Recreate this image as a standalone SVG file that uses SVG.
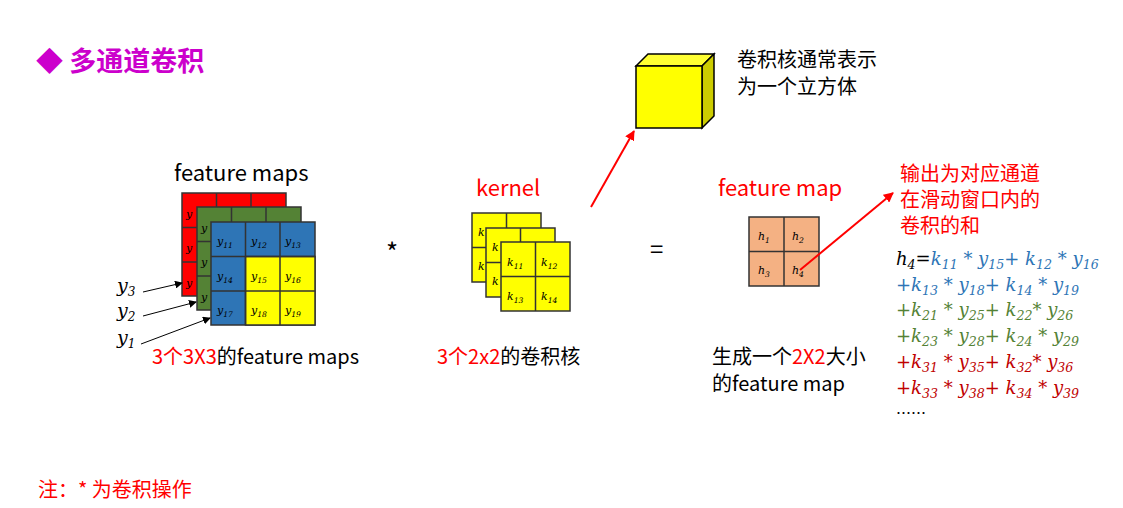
<svg xmlns="http://www.w3.org/2000/svg" width="1123" height="508" viewBox="0 0 1123 508">
<style>
text{font-family:"Noto Sans CJK SC","Liberation Sans",sans-serif}
.c{stroke:#333;stroke-width:1.5}
text.m{font-family:"DejaVu Serif","Liberation Serif",serif;font-style:italic}
.b{font-size:70%}
.s{font-size:11px}
.k{font-size:11px}
.e{font-size:18px}
.t{font-size:22px}
.z{font-size:20px}
</style>
<defs>
<marker id="ab" markerWidth="8" markerHeight="8" refX="7" refY="4" orient="auto" markerUnits="userSpaceOnUse"><path d="M0,0L8,4L0,8z" fill="#000"/></marker>
<marker id="ar" markerWidth="10" markerHeight="10" refX="9" refY="5" orient="auto" markerUnits="userSpaceOnUse"><path d="M0,0L10,5L0,10z" fill="red"/></marker>
</defs>
<rect width="1123" height="508" fill="#fff"/>
<g id="title"><text x="36" y="71" font-size="27" font-weight="bold" fill="#CC00CC">◆ 多通道卷积</text></g>
<g id="featuremaps">
<text x="174" y="181" class="t" fill="#000">feature maps</text>
<g class="c">
<rect x="182" y="193" width="104" height="103" fill="red"/>
<path d="M216.5,193V296M251,193V296M182,227.5H286M182,262H286" fill="none"/>
<rect x="197" y="207" width="104" height="103" fill="#548235"/>
<path d="M231.5,207V310M266,207V310M197,241.5H301M197,276H301" fill="none"/>
<rect x="211" y="222" width="104" height="103" fill="#2E75B6"/>
<rect x="245.5" y="256.5" width="69.5" height="68.5" fill="#FFFF00"/>
<path d="M245.5,222V325M280,222V325M211,256.5H315M211,291H315" fill="none"/>
</g>
<g fill="#000">
<text class="m s" x="186" y="218">y</text><text class="m s" x="186" y="252">y</text><text class="m s" x="186" y="287">y</text>
<text class="m s" x="201" y="232">y</text><text class="m s" x="201" y="266">y</text><text class="m s" x="201" y="301">y</text>
<text class="m s" x="217" y="245">y<tspan class="b" dy="3">11</tspan></text><text class="m s" x="251" y="245">y<tspan class="b" dy="3">12</tspan></text><text class="m s" x="285" y="245">y<tspan class="b" dy="3">13</tspan></text>
<text class="m s" x="217" y="280">y<tspan class="b" dy="3">14</tspan></text><text class="m s" x="251" y="280">y<tspan class="b" dy="3">15</tspan></text><text class="m s" x="285" y="280">y<tspan class="b" dy="3">16</tspan></text>
<text class="m s" x="217" y="314">y<tspan class="b" dy="3">17</tspan></text><text class="m s" x="251" y="314">y<tspan class="b" dy="3">18</tspan></text><text class="m s" x="285" y="314">y<tspan class="b" dy="3">19</tspan></text>
</g>
<text x="152" y="364" class="z"><tspan fill="red">3个3X3</tspan><tspan fill="#000">的feature maps</tspan></text>
</g>
<g id="ylabels" fill="#000">
<text class="m" font-size="19" x="117" y="292">y<tspan font-size="12" dy="4">3</tspan></text>
<text class="m" font-size="19" x="117" y="317">y<tspan font-size="12" dy="4">2</tspan></text>
<text class="m" font-size="19" x="117" y="344">y<tspan font-size="12" dy="4">1</tspan></text>
</g>
<g id="ops" fill="#000"><text x="386" y="262" font-size="26">*</text><text x="650" y="258" font-size="24">=</text></g>
<g id="kernel">
<text x="476" y="196" class="t" fill="red">kernel</text>
<g class="c" fill="#FFFF00">
<rect x="472" y="213" width="69" height="69"/><path d="M506.5,213V282M472,247.5H541" fill="none"/>
<rect x="486" y="228" width="69" height="69"/><path d="M520.5,228V297M486,262.5H555" fill="none"/>
<rect x="501" y="242" width="69" height="69"/><path d="M535.5,242V311M501,276.5H570" fill="none"/>
</g>
<g fill="#000">
<text class="m k" x="478" y="236">k</text><text class="m k" x="478" y="270">k</text>
<text class="m k" x="492" y="251">k</text><text class="m k" x="492" y="285">k</text>
<text class="m k" x="507" y="266">k<tspan class="b" dy="3">11</tspan></text><text class="m k" x="541" y="266">k<tspan class="b" dy="3">12</tspan></text>
<text class="m k" x="507" y="300">k<tspan class="b" dy="3">13</tspan></text><text class="m k" x="541" y="300">k<tspan class="b" dy="3">14</tspan></text>
</g>
<text x="437" y="364" class="z"><tspan fill="red">3个2x2</tspan><tspan fill="#000">的卷积核</tspan></text>
</g>
<g id="cube" stroke="#000" stroke-width="1.5">
<path d="M636,66L648,54H714L702,66z" fill="#FFFF33"/>
<path d="M702,66L714,54V116L702,128z" fill="#CCCC00"/>
<rect x="636" y="66" width="66" height="62" fill="#FFFF00"/>
</g>
<g id="cubetext" fill="#000"><text x="737" y="67" class="z">卷积核通常表示</text><text x="737" y="94" class="z">为一个立方体</text></g>
<g id="fmap">
<text x="718" y="196" class="t" fill="red">feature map</text>
<g class="c"><rect x="749" y="217" width="70" height="69" fill="#F4B183"/><path d="M784,217V286M749,251.5H819" fill="none"/></g>
<g fill="#000"><text class="m k" x="758" y="240">h<tspan class="b" dy="3">1</tspan></text><text class="m k" x="792" y="240">h<tspan class="b" dy="3">2</tspan></text><text class="m k" x="758" y="274">h<tspan class="b" dy="3">3</tspan></text><text class="m k" x="792" y="274">h<tspan class="b" dy="3">4</tspan></text></g>
<text x="712" y="364" class="z" fill="#000">生成一个<tspan fill="red">2X2</tspan>大小</text>
<text x="712" y="391" class="z" fill="#000">的feature map</text>
</g>
<g id="note" fill="red"><text x="900" y="181" class="z">输出为对应通道</text><text x="900" y="207" class="z">在滑动窗口内的</text><text x="900" y="233" class="z">卷积的和</text></g>
<g id="equation">
<text class="m e" x="896" y="265"><tspan fill="#000">h<tspan class="b" dy="4">4</tspan><tspan dy="-4" font-style="normal">=</tspan></tspan><tspan fill="#2E75B6">k<tspan class="b" dy="4">11</tspan><tspan dy="-4"> * y</tspan><tspan class="b" dy="4">15</tspan><tspan dy="-4">+ k</tspan><tspan class="b" dy="4">12</tspan><tspan dy="-4"> * y</tspan><tspan class="b" dy="4">16</tspan></tspan></text>
<text class="m e" x="896" y="291" fill="#2E75B6">+k<tspan class="b" dy="4">13</tspan><tspan dy="-4"> * y</tspan><tspan class="b" dy="4">18</tspan><tspan dy="-4">+ k</tspan><tspan class="b" dy="4">14</tspan><tspan dy="-4"> * y</tspan><tspan class="b" dy="4">19</tspan></text>
<text class="m e" x="896" y="316" fill="#548235">+k<tspan class="b" dy="4">21</tspan><tspan dy="-4"> * y</tspan><tspan class="b" dy="4">25</tspan><tspan dy="-4">+ k</tspan><tspan class="b" dy="4">22</tspan><tspan dy="-4">* y</tspan><tspan class="b" dy="4">26</tspan></text>
<text class="m e" x="896" y="342" fill="#548235">+k<tspan class="b" dy="4">23</tspan><tspan dy="-4"> * y</tspan><tspan class="b" dy="4">28</tspan><tspan dy="-4">+ k</tspan><tspan class="b" dy="4">24</tspan><tspan dy="-4"> * y</tspan><tspan class="b" dy="4">29</tspan></text>
<text class="m e" x="896" y="368" fill="#C00000">+k<tspan class="b" dy="4">31</tspan><tspan dy="-4"> * y</tspan><tspan class="b" dy="4">35</tspan><tspan dy="-4">+ k</tspan><tspan class="b" dy="4">32</tspan><tspan dy="-4">* y</tspan><tspan class="b" dy="4">36</tspan></text>
<text class="m e" x="896" y="394" fill="#C00000">+k<tspan class="b" dy="4">33</tspan><tspan dy="-4"> * y</tspan><tspan class="b" dy="4">38</tspan><tspan dy="-4">+ k</tspan><tspan class="b" dy="4">34</tspan><tspan dy="-4"> * y</tspan><tspan class="b" dy="4">39</tspan></text>
<text x="896" y="419" fill="#000" font-size="15">……</text>
</g>
<g id="footer"><text x="38" y="497" class="z" fill="red">注：* 为卷积操作</text></g>
<g id="connectors" fill="none">
<g stroke="#000" stroke-width="1" marker-end="url(#ab)">
<path d="M143,292L182,283"/><path d="M143,316L196,302"/><path d="M141,344L210,318"/>
</g>
<g stroke="red" stroke-width="2" marker-end="url(#ar)">
<path d="M591,207L634,131"/><path d="M800,270L893,193"/>
</g>
</g>
</svg>
